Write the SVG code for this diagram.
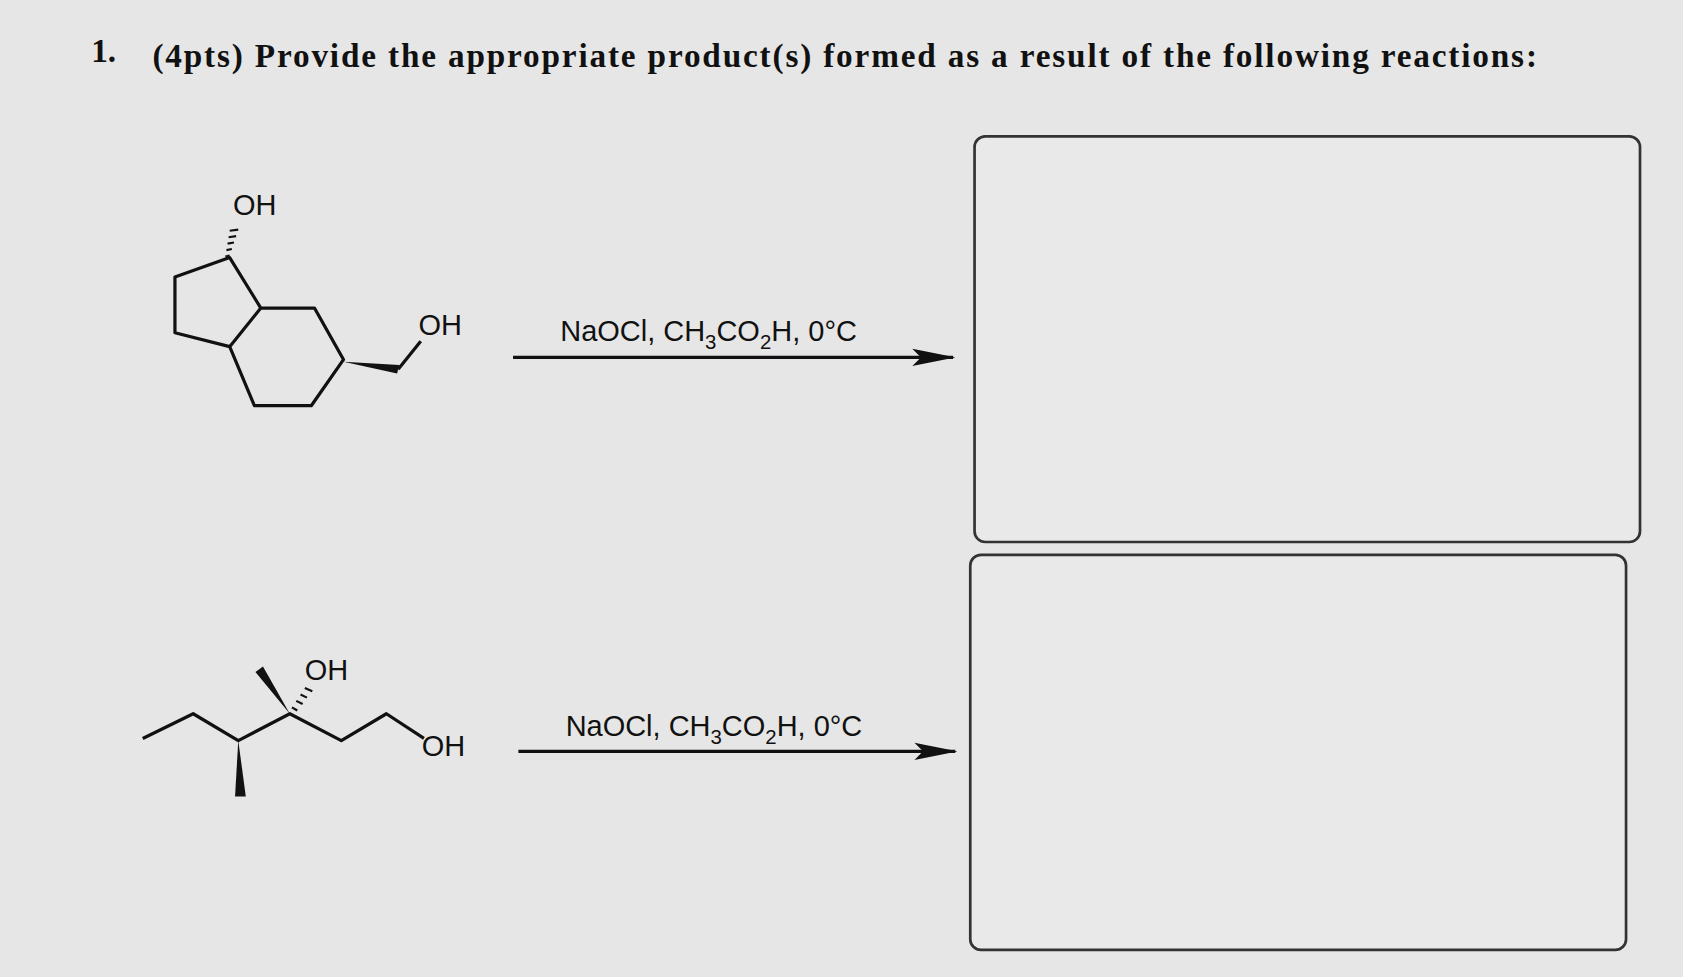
<svg xmlns="http://www.w3.org/2000/svg" width="1683" height="977" viewBox="0 0 1683 977">
<style>
.b{stroke:#111;stroke-width:3;fill:none;stroke-linejoin:round}
.t{font-family:"Liberation Sans",Arial,sans-serif;font-size:27px;fill:#111}
.box{fill:#e9e9e9;stroke:#333;stroke-width:2.5}
</style>
<defs><marker id="ah" markerWidth="40" markerHeight="20" refX="38" refY="10" orient="auto" markerUnits="userSpaceOnUse"><path d="M0,2 L40,10 L0,18 L8,10Z" fill="#111"/></marker></defs>
<rect width="1683" height="977" fill="#e6e6e6"/>
<g transform="scale(1.0733)">
<text x="85" y="58" font-family="Liberation Serif,serif" font-weight="bold" font-size="31" fill="#111">1.</text>
<text x="142" y="62" font-family="Liberation Serif,serif" font-weight="bold" font-size="31" fill="#111" textLength="1290" lengthAdjust="spacing">(4pts) Provide the appropriate product(s) formed as a result of the following reactions:</text>
<g id="mol1">
<path class="b" d="M214,240 L163,258 L163,310 L214,323 L243,287 Z M243,287 L293,287 L320,335 L290,378 L237,378 L214,323"/>
<path d="M320,337 L372,340 L370,348 Z" fill="#111"/>
<path class="b" d="M371,344 L392,318"/>
<path stroke="#111" stroke-width="2" d="M214,238 l-4,1 M216,232 l-5,1 M218,226 l-6,1 M220,220 l-7,1 M222,214 l-8,1"/>
<text class="t" x="217" y="200">OH</text>
<text class="t" x="390" y="312">OH</text>
</g>
<g id="mol2">
<path class="b" d="M133,688 L180,665 L222,690 L270,665 L318,690 L360,665 L395,688"/>
<path d="M222,690 L219,742 L229,742 Z" fill="#111"/>
<path d="M270,665 L238,626 L245,621 Z" fill="#111"/>
<path stroke="#111" stroke-width="2" d="M272,659 l5,3 M276,653 l6,3 M280,647 l6,3 M284,641 l7,3"/>
<text class="t" x="284" y="634">OH</text>
<text class="t" x="393" y="704">OH</text>
</g>
<g id="connectors">
<line class="b" x1="478" y1="333" x2="888" y2="333" stroke-width="2" marker-end="url(#ah)"/>
<line class="b" x1="483" y1="700" x2="890" y2="700" stroke-width="2" marker-end="url(#ah)"/>
</g>
<text class="t" x="522" y="318">NaOCl, CH<tspan font-size="19" dy="7">3</tspan><tspan dy="-7">CO</tspan><tspan font-size="19" dy="7">2</tspan><tspan dy="-7">H, 0°C</tspan></text>
<text class="t" x="527" y="686">NaOCl, CH<tspan font-size="19" dy="7">3</tspan><tspan dy="-7">CO</tspan><tspan font-size="19" dy="7">2</tspan><tspan dy="-7">H, 0°C</tspan></text>
<g id="box1"><rect class="box" x="908" y="127" width="620" height="378" rx="10"/></g>
<g id="box2"><rect class="box" x="904" y="517" width="611" height="368" rx="10"/></g>
</g>
</svg>
